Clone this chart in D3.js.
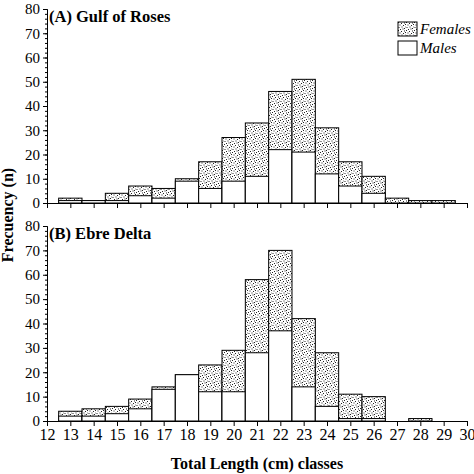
<!DOCTYPE html>
<html><head><meta charset="utf-8">
<script src="https://cdn.jsdelivr.net/npm/d3@7"></script>
<style>body{margin:0;background:#fff}svg{font-family:"Liberation Serif","DejaVu Serif",serif}</style>
</head><body><svg id="c" width="474" height="474"></svg>
<script>
const classes = [13,14,15,16,17,18,19,20,21,22,23,24,25,26,27,28,29];
const gulfTotal = [2,1,4,7,6,10,17,27,33,46,51,31,17,11,2,1,1];
const gulfMales = [1,1,1,3,2,9,6,9,11,22,21,12,7,4,0,0,0];
const ebreTotal = [4,5,6,9,14,19,23,29,58,70,42,28,11,10,0,1,0];
const ebreMales = [2,2,3,5,13,19,12,12,28,37,14,6,1,1,0,0,0];
const yTicks = [0,10,20,30,40,50,60,70,80];

const svg = d3.select("#c");
const defs = svg.append("defs");
const pat = defs.append("pattern").attr("id","dots").attr("patternUnits","userSpaceOnUse")
  .attr("width",8).attr("height",8);
pat.append("rect").attr("width",8).attr("height",8).attr("fill","#fff");
[[0,0],[3,1],[6,0.5],[1.5,2.5],[5,3],[7,2],[0.5,5],[3.5,4.5],[6,6],[2,7],[4.5,6.5],[7.5,4.5]].forEach(p =>
  pat.append("rect").attr("x",p[0]).attr("y",p[1]).attr("width",1).attr("height",1).attr("fill","#222"));

const x = d3.scaleLinear().domain([12,30]).range([47,467]);
const bw = x(1) - x(0);

function panel(title, total, males, y0, y1, labels) {
  const y = d3.scaleLinear().domain([0,80]).range([y0,y1]);
  const g = svg.append("g");
  classes.forEach((c,i) => {
    if (total[i] > 0) g.append("rect").attr("x",x(c-0.5)).attr("width",bw)
      .attr("y",y(total[i])).attr("height",y(0)-y(total[i]))
      .attr("fill","url(#dots)").attr("stroke","#000").attr("stroke-width",1);
    if (males[i] > 0) g.append("rect").attr("x",x(c-0.5)).attr("width",bw)
      .attr("y",y(males[i])).attr("height",y(0)-y(males[i]))
      .attr("fill","#fff").attr("stroke","#000").attr("stroke-width",1);
  });
  const ya = g.append("g").attr("transform",`translate(${x(12)},0)`)
    .call(d3.axisLeft(y).tickValues(yTicks).tickSize(4).tickSizeOuter(0));
  g.append("g").attr("transform",`translate(${x(12)},0)`)
    .call(d3.axisLeft(y).tickValues(d3.range(0,81,2)).tickSize(2).tickFormat(""));
  g.append("g").attr("transform",`translate(0,${y(0)})`)
    .call(d3.axisBottom(x).ticks(18).tickSize(5).tickSizeOuter(0)
      .tickFormat(labels ? d3.format("d") : ""));
  g.selectAll(".domain").attr("stroke","#000");
  g.selectAll(".tick line").attr("stroke","#000");
  g.selectAll("text").attr("font-family","Liberation Serif").attr("font-size",labels?16:15).attr("fill","#000");
  ya.selectAll("text").attr("font-size",15);
  g.append("text").attr("x",x(12)+2).attr("y",y1+13).attr("font-weight","bold")
    .attr("font-size",16.5).text(title);
  return y;
}

panel("(A) Gulf of Roses", gulfTotal, gulfMales, 203, 9, false);
panel("(B) Ebre Delta", ebreTotal, ebreMales, 421, 226, true);

// legend
const lg = svg.append("g").attr("transform","translate(398,22)");
lg.append("rect").attr("width",19).attr("height",14).attr("fill","url(#dots)").attr("stroke","#000");
lg.append("rect").attr("y",19).attr("width",19).attr("height",14).attr("fill","#fff").attr("stroke","#000");
lg.append("text").attr("x",22).attr("y",12).attr("font-style","italic").attr("font-size",15).text("Females");
lg.append("text").attr("x",22).attr("y",31).attr("font-style","italic").attr("font-size",15).text("Males");

svg.append("text").attr("transform","translate(13,215) rotate(-90)").attr("text-anchor","middle")
  .attr("font-weight","bold").attr("font-size",16).text("Frecuency (n)");
svg.append("text").attr("x",257).attr("y",469).attr("text-anchor","middle")
  .attr("font-weight","bold").attr("font-size",16).text("Total Length (cm) classes");
</script></body></html>
